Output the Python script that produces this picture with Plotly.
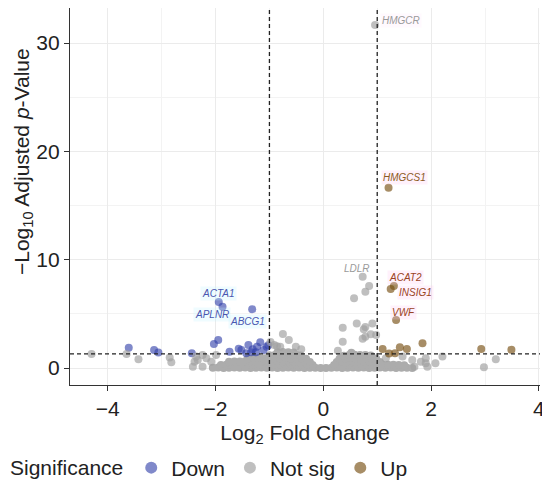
import plotly.graph_objects as go

# significant, down-regulated genes
down_x = [-1.94, -1.87, -1.32, -3.61, -3.14, -3.06, -2.44, -2.03, -1.95, -1.74,
          -1.57, -1.52, -1.39, -1.31, -1.23, -1.17, -1.34, -1.25, -1.11, -1.05,
          -1.02, -1.43]
down_y = [6.09, 5.66, 5.42, 1.88, 1.66, 1.42, 1.36, 2.22, 2.58, 1.51,
          1.78, 1.66, 2.12, 1.72, 1.97, 2.37, 1.45, 1.45, 1.66, 1.97,
          2.10, 1.36]

# significant, up-regulated genes
up_x = [1.21, 1.31, 1.25, 1.35, 1.10, 1.22, 1.33, 1.42, 1.55, 1.84, 2.93, 3.49]
up_y = [16.65, 7.57, 7.29, 4.43, 1.75, 1.35, 1.36, 1.91, 1.75, 2.28, 1.75, 1.69]

# not significant: scattered genes
ns_x = [0.96, 0.73, 0.85, 0.78, 0.57, 0.62, 0.78, 0.91, 0.75, 0.36,
        0.78, 0.88, 0.73, 0.36, 0.98, 0.27,
        -0.75, -0.64, -0.91, -0.51, -0.41, -0.80, -0.98, -0.86,
        1.16, 1.47, 1.65, 1.81, 1.90, 1.90, 2.08, 2.21, 3.20, 2.98, 1.69, 1.93,
        -4.30, -3.65, -3.43, -2.85, -2.82, -2.39, -2.33, -2.42, -2.24, -2.36,
        -2.24, -2.17, -2.08, -1.99]
ns_y = [31.67, 8.43, 7.57, 7.05, 6.43, 4.12, 3.78, 4.12, 3.57, 3.72,
        2.89, 3.11, 2.70, 2.43, 3.05, 1.60,
        3.14, 2.58, 2.12, 1.97, 1.72, 1.97, 2.40, 2.00,
        0.89, 1.05, 0.74, 0.58, 0.43, 0.89, 0.43, 1.05, 0.80, 0.06, 0.12, 0.12,
        1.29, 1.29, 0.80, 0.98, 0.52, 0.58, 0.74, 0.12, 0.12, 1.05,
        1.20, 0.89, 0.58, 1.20]

# not significant: the dense cloud near the origin, read row by row
cloud_x = [-2.05, -1.95, -1.85, -1.75, -1.65, -1.55, -1.45, -1.35, -1.25, -1.15,
           -1.05, -0.95, -0.85, -0.75, -0.65, -0.55, -0.45, -0.35, -0.25, -0.15,
           -0.05, 0.05, 0.15, 0.25, 0.35, 0.45, 0.55, 0.65, 0.75, 0.85,
           0.95, 1.05, 1.15, 1.25, 1.35, 1.45, 1.55, 1.65,
           -1.90, -1.80, -1.70, -1.60, -1.50, -1.40, -1.30, -1.20, -1.10, -1.00,
           -0.90, -0.80, -0.70, -0.60, -0.50, -0.40, -0.30, -0.20,
           0.20, 0.30, 0.40, 0.50, 0.60, 0.70, 0.80, 0.90, 1.00, 1.10,
           1.20, 1.30, 1.40, 1.50,
           -1.75, -1.65, -1.55, -1.45, -1.35, -1.25, -1.15, -1.05, -0.95, -0.85,
           -0.75, -0.65, -0.55, -0.45, -0.35, -0.25,
           0.25, 0.35, 0.45, 0.55, 0.65, 0.75, 0.85, 0.95, 1.05,
           -1.40, -1.30, -1.20, -1.10, -1.00, -0.90, -0.80, -0.70, -0.60, -0.50,
           -0.40, -0.32, 0.30, 0.40, 0.50, 0.60, 0.70, 0.80, 0.90, 0.98,
           -1.00, -0.90, -0.80, -0.70, -0.60, -0.50, -0.42,
           0.38, 0.48, 0.58, 0.68, 0.78, 0.88,
           -0.85, -0.75, -0.65, -0.55, 0.52]
cloud_y = [0.02, 0.04, 0.01, 0.03, 0.05, 0.02, 0.04, 0.01, 0.03, 0.05,
           0.02, 0.04, 0.01, 0.03, 0.05, 0.02, 0.04, 0.01, 0.03, 0.02,
           0.00, 0.00, 0.02, 0.04, 0.01, 0.03, 0.05, 0.02, 0.04, 0.01,
           0.03, 0.05, 0.02, 0.04, 0.01, 0.03, 0.02, 0.01,
           0.28, 0.31, 0.30, 0.32, 0.29, 0.31, 0.30, 0.33, 0.29, 0.31,
           0.30, 0.32, 0.29, 0.31, 0.30, 0.32, 0.30, 0.28,
           0.28, 0.31, 0.30, 0.32, 0.29, 0.31, 0.30, 0.32, 0.29, 0.31,
           0.30, 0.29, 0.28, 0.26,
           0.58, 0.61, 0.60, 0.62, 0.59, 0.61, 0.60, 0.62, 0.59, 0.61,
           0.60, 0.62, 0.59, 0.61, 0.58, 0.55,
           0.55, 0.60, 0.62, 0.59, 0.61, 0.60, 0.62, 0.59, 0.56,
           0.88, 0.90, 0.92, 0.89, 0.91, 0.93, 0.90, 0.92, 0.89, 0.91,
           0.90, 0.86, 0.86, 0.91, 0.93, 0.90, 0.92, 0.89, 0.91, 0.87,
           1.18, 1.21, 1.23, 1.20, 1.22, 1.19, 1.16,
           1.14, 1.20, 1.22, 1.19, 1.21, 1.16,
           1.45, 1.48, 1.46, 1.43, 1.40]

# gene labels: text, anchor x, anchor y, side, colour
lab_text = ["HMGCR", "HMGCS1", "LDLR", "ACAT2", "INSIG1", "VWF", "ACTA1", "APLNR", "ABCG1"]
lab_x = [1.06, 1.07, 0.91, 1.19, 1.37, 1.24, -2.28, -2.41, -1.04]
lab_y = [32.1, 17.6, 9.2, 8.4, 7.0, 5.08, 6.9, 4.9, 4.25]
lab_side = ["left", "left", "right", "left", "left", "left", "left", "left", "right"]
lab_col = ["#9a9a9a", "#8b5a22", "#9a9a9a", "#9a4323", "#9a4323", "#9a4323",
           "#4a57b0", "#4a57b0", "#4a57b0"]
lab_bg = ["rgba(255,230,250,0.25)", "rgba(255,200,240,0.25)", "rgba(0,0,0,0)",
          "rgba(255,200,240,0.25)", "rgba(255,200,240,0.25)", "rgba(255,200,240,0.25)",
          "rgba(190,245,255,0.25)", "rgba(190,245,255,0.25)", "rgba(190,245,255,0.25)"]

FONT = "Liberation Sans, Arial, sans-serif"
GRAY = "rgba(160,160,160,0.68)"
CLOUD = "rgb(172,172,172)"
BLUE = "rgba(50,65,170,0.62)"
BROWN = "rgba(120,80,20,0.65)"

fig = go.Figure()
fig.add_trace(go.Scatter(x=cloud_x, y=cloud_y, mode="markers", showlegend=False,
                         marker=dict(size=8, color=CLOUD, line=dict(width=0))))
fig.add_trace(go.Scatter(x=down_x, y=down_y, mode="markers", name="Down",
                         marker=dict(size=8, color=BLUE, line=dict(width=0))))
fig.add_trace(go.Scatter(x=ns_x, y=ns_y, mode="markers", name="Not sig",
                         marker=dict(size=8, color=GRAY, line=dict(width=0))))
fig.add_trace(go.Scatter(x=up_x, y=up_y, mode="markers", name="Up",
                         marker=dict(size=8, color=BROWN, line=dict(width=0))))

# threshold lines
for xv in [-1, 1]:
    fig.add_shape(type="line", x0=xv, x1=xv, y0=0, y1=1, xref="x", yref="paper",
                  line=dict(color="#222", width=1.3, dash="4px,3px"))
fig.add_shape(type="line", x0=0, x1=1, y0=1.3, y1=1.3, xref="paper", yref="y",
              line=dict(color="#222", width=1.3, dash="4px,3px"))

for t, x, y, s, c, bg in zip(lab_text, lab_x, lab_y, lab_side, lab_col, lab_bg):
    fig.add_annotation(x=x, y=y, text="<i>" + t + "</i>", showarrow=False,
                       xanchor=s, yanchor="middle", bgcolor=bg, borderpad=1,
                       font=dict(family=FONT, size=10, color=c))

# y-axis title as a rotated annotation (it sits a bit above the panel centre)
fig.add_annotation(x=-0.1, y=0.5915, xref="paper", yref="paper", textangle=-90,
                   text="\u2212Log<sub>10</sub> Adjusted <i>p</i>-Value", showarrow=False,
                   xanchor="center", yanchor="middle",
                   font=dict(family=FONT, size=21, color="#222"))

axis_common = dict(showline=True, linecolor="#333", linewidth=1.4, mirror=False,
                   ticks="outside", ticklen=5, tickcolor="#333", tickwidth=1.2,
                   showgrid=True, gridcolor="#ebebeb", gridwidth=1, zeroline=False,
                   automargin=False,
                   tickfont=dict(family=FONT, size=21, color="#222"))

fig.update_xaxes(range=[-4.7, 4.02], tickvals=[-4, -2, 0, 2, 4],
                 minor=dict(tickvals=[-3, -1, 1, 3], showgrid=True, gridcolor="#f3f3f3", ticks=""),
                 title=dict(text="Log<sub>2</sub> Fold Change", standoff=19,
                            font=dict(family=FONT, size=21, color="#222")),
                 **axis_common)
fig.update_yaxes(range=[-1.57, 33.24], tickvals=[0, 10, 20, 30],
                 minor=dict(tickvals=[5, 15, 25], showgrid=True, gridcolor="#f3f3f3", ticks=""),
                 **axis_common)

# the page body adds an 8px offset, so the figure is 8px smaller than the window
fig.update_layout(
    width=542, height=481,
    margin=dict(l=62, r=10, t=0, b=104, autoexpand=False),
    plot_bgcolor="white", paper_bgcolor="white",
    font=dict(family=FONT, color="#222"),
    showlegend=True,
    legend=dict(orientation="h", xref="container", yref="container",
                x=0.0, xanchor="left", y=0.0437, yanchor="middle",
                title=dict(text="Significance", font=dict(family=FONT, size=21, color="#222")),
                font=dict(family=FONT, size=21, color="#222"),
                itemsizing="constant", itemwidth=30, bgcolor="rgba(0,0,0,0)"),
)

fig.write_html("out.html")
